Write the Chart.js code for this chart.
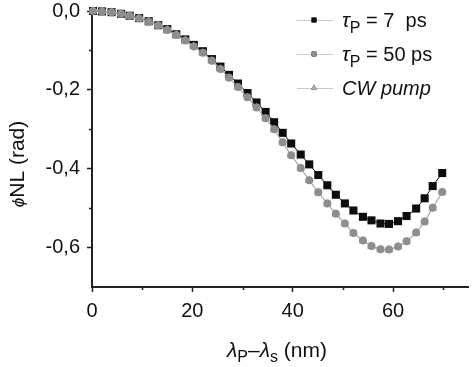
<!DOCTYPE html>
<html>
<head>
<meta charset="utf-8">
<script src="https://cdn.jsdelivr.net/npm/chart.js@4.4.1/dist/chart.umd.min.js"></script>
<style>
  html, body { margin: 0; padding: 0; background: #fff; }
  #wrap { width: 474px; height: 367px; }
</style>
</head>
<body>
<div id="wrap"><canvas id="phaseChart" width="474" height="367"></canvas></div>
<script>
// pump-signal detuning (nm)
const detuning = [0.2, 2.0, 3.9, 5.8, 7.5, 9.4, 11.3, 13.2, 15.0, 16.8,
                  18.6, 20.3, 22.1, 23.9, 25.6, 27.3, 29.1, 31.0, 32.8, 34.6,
                  36.3, 38.0, 39.7, 41.6, 43.3, 45.1, 46.9, 48.6, 50.4, 52.1,
                  54.0, 55.7, 57.5, 59.2, 61.0, 62.7, 64.6, 66.3, 67.9, 69.8];

// nonlinear phase (rad) for each pump
const phase7ps = [0.000, -0.001, -0.003, -0.007, -0.012, -0.018, -0.026, -0.036, -0.046, -0.059,
                  -0.072, -0.086, -0.102, -0.122, -0.141, -0.162, -0.184, -0.208, -0.232, -0.256,
                  -0.282, -0.309, -0.336, -0.364, -0.389, -0.416, -0.442, -0.466, -0.488, -0.506,
                  -0.522, -0.531, -0.539, -0.540, -0.533, -0.520, -0.501, -0.475, -0.444, -0.411];
const phase50ps = [0.000, -0.001, -0.003, -0.007, -0.012, -0.019, -0.027, -0.037, -0.048, -0.061,
                   -0.075, -0.090, -0.106, -0.126, -0.147, -0.169, -0.193, -0.219, -0.245, -0.272,
                   -0.300, -0.333, -0.366, -0.398, -0.429, -0.460, -0.488, -0.514, -0.539, -0.563,
                   -0.582, -0.596, -0.604, -0.605, -0.597, -0.584, -0.562, -0.534, -0.499, -0.459];
const phaseCW = [0.000, -0.001, -0.003, -0.007, -0.012, -0.019, -0.027, -0.037, -0.048, -0.061,
                 -0.075, -0.090, -0.107, -0.127, -0.148, -0.170, -0.194, -0.220, -0.246, -0.273,
                 -0.301, -0.334, -0.367, -0.399, -0.430, -0.461, -0.489, -0.515, -0.540, -0.564,
                 -0.583, -0.597, -0.605, -0.606, -0.598, -0.585, -0.563, -0.535, -0.500, -0.460];

const xMinorTicks = [10, 30, 50, 70];
const yMinorTicks = [-0.1, -0.3, -0.5];

const FONT = "'Liberation Sans', Arial, Helvetica, sans-serif";

function toPoints(ys) {
    return detuning.map((x, i) => ({ x: x, y: ys[i] }));
}

// draw a row of text pieces with different fonts / offsets, returns total width
function drawRuns(ctx, runs, x, y, measureOnly) {
    let w = 0;
    runs.forEach(r => {
        ctx.font = r.font;
        if (!measureOnly) ctx.fillText(r.text, x + w, y + (r.dy || 0));
        w += ctx.measureText(r.text).width;
    });
    return w;
}

const extrasPlugin = {
    id: 'extras',
    afterDraw(chart) {
        const ctx = chart.ctx;
        const xs = chart.scales.x, ys = chart.scales.y;
        const area = chart.chartArea;
        ctx.save();

        // minor ticks
        ctx.strokeStyle = '#222';
        ctx.lineWidth = 1.5;
        ctx.beginPath();
        xMinorTicks.forEach(v => {
            const px = Math.round(xs.getPixelForValue(v)) + 0.5;
            ctx.moveTo(px, area.bottom);
            ctx.lineTo(px, area.bottom + 3);
        });
        yMinorTicks.forEach(v => {
            const py = Math.round(ys.getPixelForValue(v)) + 0.5;
            ctx.moveTo(area.left, py);
            ctx.lineTo(area.left - 3, py);
        });
        ctx.stroke();

        ctx.fillStyle = '#111';
        ctx.textBaseline = 'alphabetic';

        // x axis title
        const xRuns = [
            { text: 'λ', font: 'italic 21px ' + FONT },
            { text: 'P', font: '16px ' + FONT, dy: 5 },
            { text: '–', font: '21px ' + FONT },
            { text: 'λ', font: 'italic 21px ' + FONT },
            { text: 's', font: '16px ' + FONT, dy: 5 },
            { text: ' (nm)', font: '21px ' + FONT }
        ];
        const xw = drawRuns(ctx, xRuns, 0, 0, true);
        drawRuns(ctx, xRuns, 277 - xw / 2, 357);

        // y axis title
        const yRuns = [
            { text: 'ϕ', font: 'italic 17px ' + FONT },
            { text: 'NL (rad)', font: '21px ' + FONT }
        ];
        const yw = drawRuns(ctx, yRuns, 0, 0, true);
        ctx.save();
        ctx.translate(24, 164);
        ctx.rotate(-Math.PI / 2);
        drawRuns(ctx, yRuns, -yw / 2, 0);
        ctx.restore();

        // legend
        const rows = [
            { ds: 0, y: 20, runs: [
                { text: 'τ', font: 'italic 21px ' + FONT },
                { text: 'P', font: '16px ' + FONT, dy: 6 },
                { text: ' = 7  ps', font: '20px ' + FONT }] },
            { ds: 1, y: 54, runs: [
                { text: 'τ', font: 'italic 21px ' + FONT },
                { text: 'P', font: '16px ' + FONT, dy: 6 },
                { text: ' = 50 ps', font: '20px ' + FONT }] },
            { ds: 2, y: 88, runs: [
                { text: 'CW pump', font: 'italic 20px ' + FONT }] }
        ];
        rows.forEach(row => {
            const ds = chart.data.datasets[row.ds];
            ctx.strokeStyle = '#c8c8c8';
            ctx.lineWidth = 1;
            ctx.beginPath();
            ctx.moveTo(297, row.y + 0.5);
            ctx.lineTo(333, row.y + 0.5);
            ctx.stroke();
            Chart.helpers.drawPoint(ctx, {
                pointStyle: ds.pointStyle,
                radius: ds.legendRadius,
                borderWidth: 0
            }, 314, row.y);
            ctx.fillStyle = ds.backgroundColor;
            ctx.fill();
            ctx.fillStyle = '#111';
            drawRuns(ctx, row.runs, 342, row.y + 7);
        });

        ctx.restore();
    }
};

const ctx = document.getElementById('phaseChart').getContext('2d');
const phaseChart = new Chart(ctx, {
    type: 'scatter',
    data: {
        datasets: [{
            label: 'tauP = 7 ps',
            data: toPoints(phase7ps),
            pointStyle: 'rect',
            pointRadius: 5.7,
            legendRadius: 3.5,
            backgroundColor: '#0d0d0d',
            borderColor: '#0d0d0d',
            pointBorderWidth: 0,
            showLine: true,
            borderWidth: 1,
            order: 2,
            clip: false
        }, {
            label: 'tauP = 50 ps',
            data: toPoints(phase50ps),
            pointStyle: 'circle',
            pointRadius: 4,
            legendRadius: 3,
            backgroundColor: '#8e8e8e',
            borderColor: '#a0a0a0',
            pointBorderWidth: 0,
            showLine: true,
            borderWidth: 1,
            order: 0,
            clip: false
        }, {
            label: 'CW pump',
            data: toPoints(phaseCW),
            pointStyle: 'triangle',
            pointRadius: 5,
            legendRadius: 3.5,
            backgroundColor: '#aeaeae',
            borderColor: '#bdbdbd',
            pointBorderWidth: 0,
            showLine: true,
            borderWidth: 1,
            order: 1,
            clip: false
        }]
    },
    options: {
        responsive: false,
        animation: false,
        devicePixelRatio: 1,
        layout: { padding: { top: 11, right: 0, left: 0, bottom: 0 } },
        plugins: {
            legend: { display: false },
            tooltip: { enabled: false }
        },
        scales: {
            x: {
                type: 'linear',
                min: 0,
                max: 75,
                afterFit: s => { s.height = 80; s.paddingLeft = 0; s.paddingRight = 0; },
                border: { display: true, color: '#222', width: 2 },
                grid: { display: true, drawOnChartArea: false, tickLength: 5, tickColor: '#222', tickWidth: 1.5 },
                ticks: {
                    stepSize: 20,
                    includeBounds: false,
                    maxRotation: 0,
                    padding: 7,
                    color: '#111',
                    font: { family: FONT, size: 20 }
                }
            },
            y: {
                type: 'linear',
                min: -0.7,
                max: 0,
                afterFit: s => { s.width = 92; s.paddingTop = 0; s.paddingBottom = 0; },
                border: { display: true, color: '#222', width: 2 },
                grid: { display: true, drawOnChartArea: false, tickLength: 5, tickColor: '#222', tickWidth: 1.5 },
                ticks: {
                    stepSize: 0.2,
                    includeBounds: false,
                    padding: 7,
                    color: '#111',
                    font: { family: FONT, size: 20 },
                    callback: v => v.toFixed(1).replace('.', ',')
                }
            }
        }
    },
    plugins: [extrasPlugin]
});
</script>
</body>
</html>
